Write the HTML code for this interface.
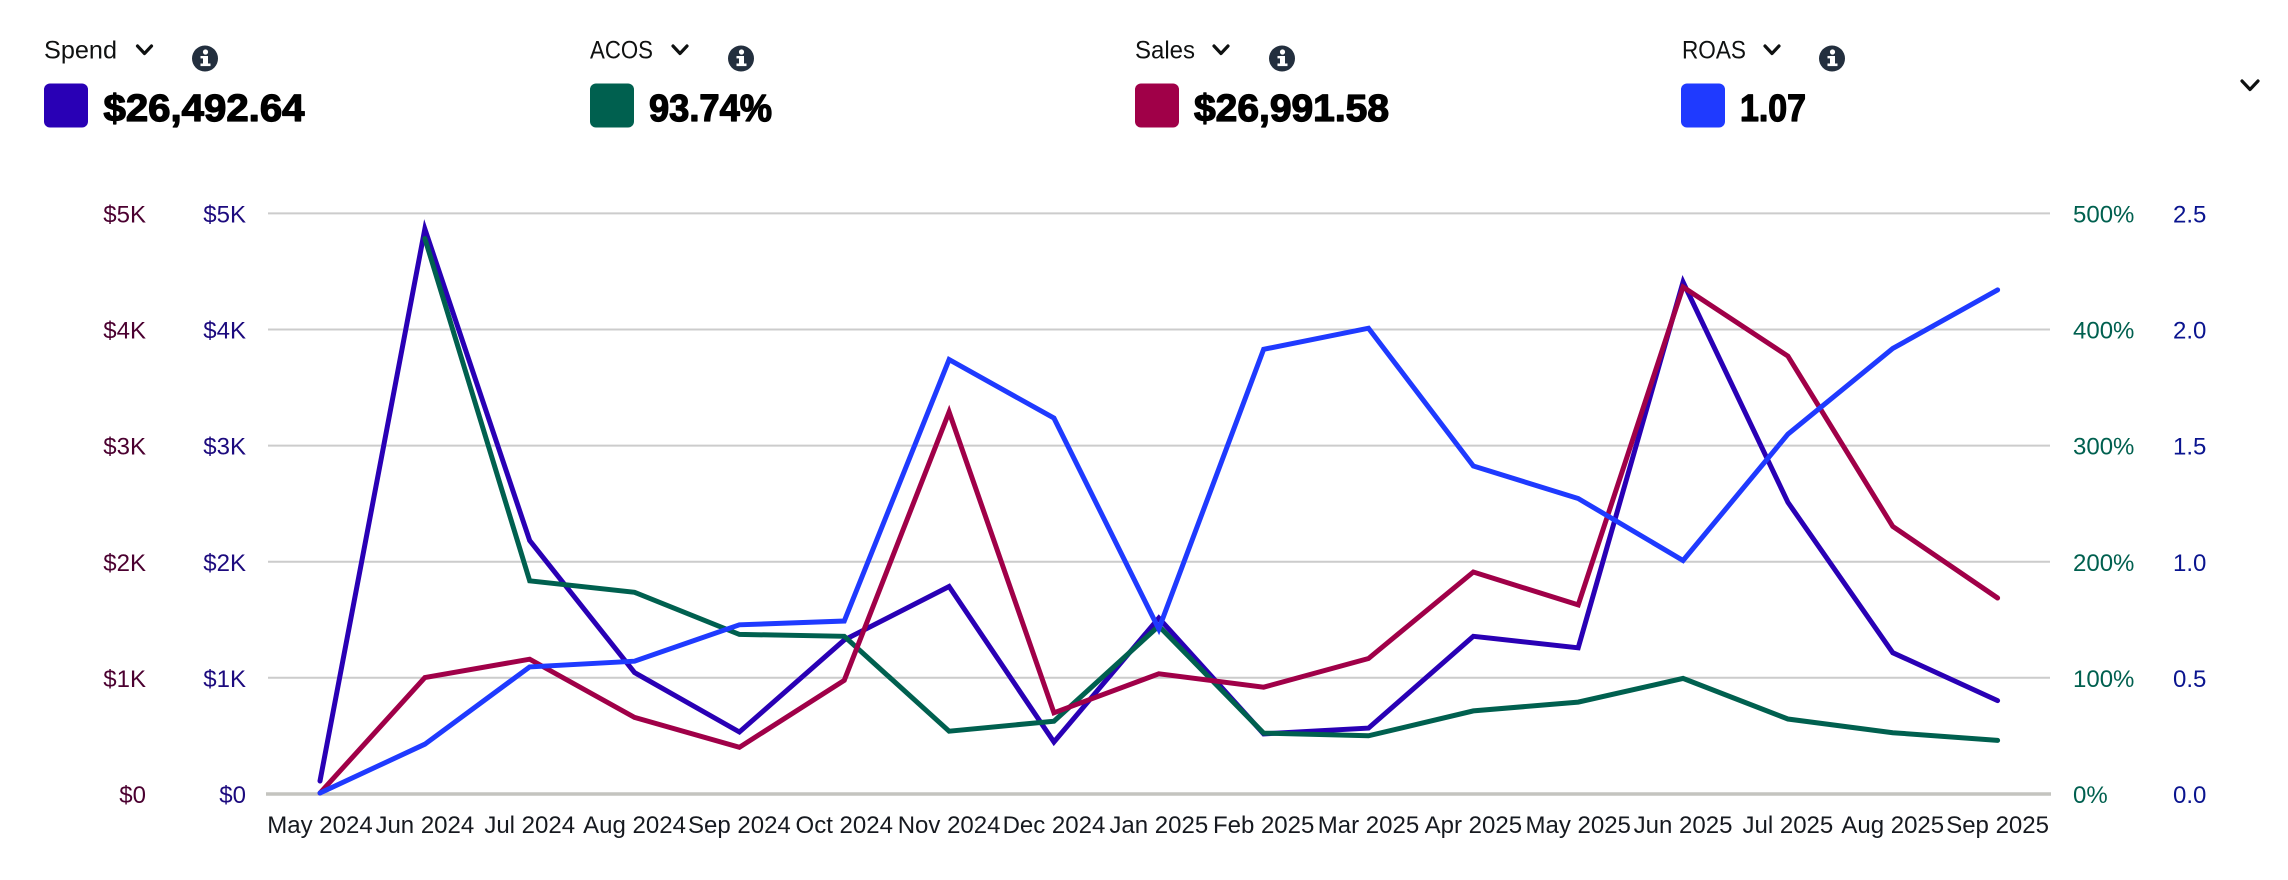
<!DOCTYPE html>
<html>
<head>
<meta charset="utf-8">
<style>
  html, body { margin: 0; padding: 0; background: #ffffff; }
  body { width: 2288px; height: 880px; overflow: hidden; position: relative; }
  svg { position: absolute; left: 0; top: 0; }
  text { font-family: "Liberation Sans", "DejaVu Sans", sans-serif; }
</style>
</head>
<body>
<svg width="2288" height="880" viewBox="0 0 2288 880" xmlns="http://www.w3.org/2000/svg">
  <rect x="0" y="0" width="2288" height="880" fill="#ffffff"/>

  <!-- ===== Header metrics ===== -->
  <g fill="#0f1111" font-size="25">
    <text x="44" y="58.5" textLength="73" lengthAdjust="spacingAndGlyphs">Spend</text>
    <text x="590" y="58.5" textLength="63" lengthAdjust="spacingAndGlyphs">ACOS</text>
    <text x="1135" y="58.5" textLength="60" lengthAdjust="spacingAndGlyphs">Sales</text>
    <text x="1682" y="58.5" textLength="64" lengthAdjust="spacingAndGlyphs">ROAS</text>
  </g>
  <!-- chevrons -->
  <g fill="none" stroke="#0f1111" stroke-width="3.2" stroke-linecap="round" stroke-linejoin="round">
    <polyline points="137.5,46 144.5,53.5 151.5,46"/>
    <polyline points="673,46 680,53.5 687,46"/>
    <polyline points="1214,46 1221,53.5 1228,46"/>
    <polyline points="1765,46 1772,53.5 1779,46"/>
    <polyline points="2242,81 2250,89.5 2258,81"/>
  </g>
  <!-- info icons -->
  <g>
    <g transform="translate(205,58.5)">
      <circle r="13" fill="#232f3e"/>
      <circle cx="0.5" cy="-6.5" r="2.6" fill="#fff"/>
      <rect x="-2" y="-2.5" width="5" height="9" fill="#fff"/>
      <rect x="-4.5" y="-2.5" width="4" height="2.4" fill="#fff"/>
      <rect x="-4.5" y="5" width="10" height="2.6" fill="#fff"/>
    </g>
    <g transform="translate(741,58.5)">
      <circle r="13" fill="#232f3e"/>
      <circle cx="0.5" cy="-6.5" r="2.6" fill="#fff"/>
      <rect x="-2" y="-2.5" width="5" height="9" fill="#fff"/>
      <rect x="-4.5" y="-2.5" width="4" height="2.4" fill="#fff"/>
      <rect x="-4.5" y="5" width="10" height="2.6" fill="#fff"/>
    </g>
    <g transform="translate(1282,58.5)">
      <circle r="13" fill="#232f3e"/>
      <circle cx="0.5" cy="-6.5" r="2.6" fill="#fff"/>
      <rect x="-2" y="-2.5" width="5" height="9" fill="#fff"/>
      <rect x="-4.5" y="-2.5" width="4" height="2.4" fill="#fff"/>
      <rect x="-4.5" y="5" width="10" height="2.6" fill="#fff"/>
    </g>
    <g transform="translate(1832,58.5)">
      <circle r="13" fill="#232f3e"/>
      <circle cx="0.5" cy="-6.5" r="2.6" fill="#fff"/>
      <rect x="-2" y="-2.5" width="5" height="9" fill="#fff"/>
      <rect x="-4.5" y="-2.5" width="4" height="2.4" fill="#fff"/>
      <rect x="-4.5" y="5" width="10" height="2.6" fill="#fff"/>
    </g>
  </g>
  <!-- color squares -->
  <rect x="44" y="83.5" width="44" height="44" rx="6" ry="6" fill="#2900b5"/>
  <rect x="590" y="83.5" width="44" height="44" rx="6" ry="6" fill="#00604f"/>
  <rect x="1135" y="83.5" width="44" height="44" rx="6" ry="6" fill="#a00048"/>
  <rect x="1681" y="83.5" width="44" height="44" rx="6" ry="6" fill="#1f3aff"/>
  <!-- values -->
  <g fill="#000000" stroke="#000000" stroke-width="1.3" stroke-linejoin="round" font-size="38" font-weight="bold">
    <text x="103.5" y="120.8" textLength="201" lengthAdjust="spacingAndGlyphs">$26,492.64</text>
    <text x="649" y="120.8" textLength="123" lengthAdjust="spacingAndGlyphs">93.74%</text>
    <text x="1194" y="120.8" textLength="195" lengthAdjust="spacingAndGlyphs">$26,991.58</text>
    <text x="1740" y="120.8" textLength="66" lengthAdjust="spacingAndGlyphs">1.07</text>
  </g>

  <!-- ===== Gridlines ===== -->
  <g stroke="#cccccc" stroke-width="2">
    <line x1="268" y1="213.4" x2="2050" y2="213.4"/>
    <line x1="268" y1="329.5" x2="2050" y2="329.5"/>
    <line x1="268" y1="445.6" x2="2050" y2="445.6"/>
    <line x1="268" y1="561.7" x2="2050" y2="561.7"/>
    <line x1="268" y1="677.8" x2="2050" y2="677.8"/>
  </g>
  <line x1="266" y1="794" x2="2051" y2="794" stroke="#c4c4bf" stroke-width="3.6"/>

  <!-- ===== Left axes ===== -->
  <g font-size="24" fill="#4b0030" text-anchor="end">
    <text x="146" y="222.5">$5K</text>
    <text x="146" y="338.6">$4K</text>
    <text x="146" y="454.7">$3K</text>
    <text x="146" y="570.8">$2K</text>
    <text x="146" y="686.9">$1K</text>
    <text x="146" y="803">$0</text>
  </g>
  <g font-size="24" fill="#1c0a7e" text-anchor="end">
    <text x="246" y="222.5">$5K</text>
    <text x="246" y="338.6">$4K</text>
    <text x="246" y="454.7">$3K</text>
    <text x="246" y="570.8">$2K</text>
    <text x="246" y="686.9">$1K</text>
    <text x="246" y="803">$0</text>
  </g>

  <!-- ===== Right axes ===== -->
  <g font-size="24" fill="#00604f">
    <text x="2073" y="222.5">500%</text>
    <text x="2073" y="338.6">400%</text>
    <text x="2073" y="454.7">300%</text>
    <text x="2073" y="570.8">200%</text>
    <text x="2073" y="686.9">100%</text>
    <text x="2073" y="803">0%</text>
  </g>
  <g font-size="24" fill="#0a148f">
    <text x="2173" y="222.5">2.5</text>
    <text x="2173" y="338.6">2.0</text>
    <text x="2173" y="454.7">1.5</text>
    <text x="2173" y="570.8">1.0</text>
    <text x="2173" y="686.9">0.5</text>
    <text x="2173" y="803">0.0</text>
  </g>

  <!-- ===== X axis labels ===== -->
  <g font-size="24" fill="#16191f" text-anchor="middle">
    <text x="320" y="833">May 2024</text>
    <text x="424.85" y="833">Jun 2024</text>
    <text x="529.7" y="833">Jul 2024</text>
    <text x="634.55" y="833">Aug 2024</text>
    <text x="739.4" y="833">Sep 2024</text>
    <text x="844.25" y="833">Oct 2024</text>
    <text x="949.1" y="833">Nov 2024</text>
    <text x="1053.95" y="833">Dec 2024</text>
    <text x="1158.8" y="833">Jan 2025</text>
    <text x="1263.65" y="833">Feb 2025</text>
    <text x="1368.5" y="833">Mar 2025</text>
    <text x="1473.35" y="833">Apr 2025</text>
    <text x="1578.2" y="833">May 2025</text>
    <text x="1683.05" y="833">Jun 2025</text>
    <text x="1787.9" y="833">Jul 2025</text>
    <text x="1892.75" y="833">Aug 2025</text>
    <text x="1997.6" y="833">Sep 2025</text>
  </g>

  <!-- ===== Series ===== -->
  <g fill="none" stroke-width="5" stroke-linejoin="miter" stroke-miterlimit="4" stroke-linecap="round">
    <!-- Spend -->
    <polyline stroke="#2900b5" points="320,781 424.85,229 529.7,540.6 634.55,672.6 739.4,732 844.25,640 949.1,586.5 1053.95,742 1158.8,618 1263.65,733.9 1368.5,728.1 1473.35,636.3 1578.2,647.8 1683.05,282 1787.9,502.3 1892.75,652.7 1997.6,700.6"/>
    <!-- ACOS -->
    <polyline stroke="#00604f" points="424.85,238.5 529.7,580.8 634.55,592.3 739.4,634.4 844.25,636.3 949.1,731.2 1053.95,721.2 1158.8,626 1263.65,733.1 1368.5,735.8 1473.35,710.9 1578.2,702.1 1683.05,678.4 1787.9,719 1892.75,732.7 1997.6,740.4"/>
    <!-- Sales -->
    <polyline stroke="#a00048" points="320,793 424.85,677.6 529.7,659.2 634.55,717.4 739.4,747.3 844.25,680.3 949.1,412 1053.95,712.8 1158.8,673.8 1263.65,687.2 1368.5,658.5 1473.35,572 1578.2,604.9 1683.05,287 1787.9,356.1 1892.75,526.4 1997.6,598"/>
    <!-- ROAS -->
    <polyline stroke="#1f3aff" points="320,793 424.85,744.2 529.7,666.9 634.55,661.2 739.4,624.8 844.25,621 949.1,359.6 1053.95,418.1 1158.8,629 1263.65,349.3 1368.5,328.2 1473.35,466 1578.2,498.5 1683.05,560.5 1787.9,434.2 1892.75,348.5 1997.6,289.9"/>
  </g>
</svg>
</body>
</html>
